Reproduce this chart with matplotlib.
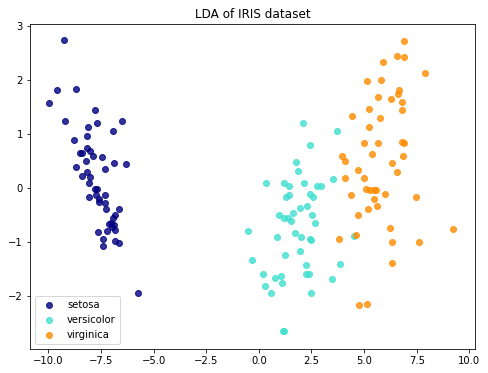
import matplotlib
matplotlib.use("Agg")
from matplotlib import pyplot as plt

target_names = ["setosa", "versicolor", "virginica"]
colors = ["navy", "turquoise", "darkorange"]

# LD1 / LD2 values
setosa_x = [-9.25, -9.58, -8.68, -9.96, -7.77, -9.20, -6.49, -7.68, -8.11, -6.92,
            -8.15, -8.77, -8.15, -8.01, -8.40, -8.50, -7.87, -7.44, -8.20, -6.87,
            -6.30, -8.68, -7.30, -8.15, -8.39, -8.01, -8.06, -7.77, -7.68, -8.06,
            -7.73, -7.30, -7.58, -7.58, -7.30, -7.25, -6.63, -6.82, -6.92, -7.01,
            -7.11, -6.87, -6.97, -6.82, -7.20, -7.63, -7.39, -6.82, -6.63, -7.39,
            -5.73]
setosa_y = [2.75, 1.82, 1.84, 1.58, 1.45, 1.24, 1.25, 1.21, 1.14, 1.05,
            0.97, 0.90, 0.75, 0.68, 0.65, 0.65, 0.59, 0.57, 0.51, 0.46,
            0.44, 0.40, 0.35, 0.29, 0.22, 0.20, 0.09, -0.01, -0.02, -0.17,
            -0.13, -0.12, -0.21, -0.26, -0.28, -0.38, -0.39, -0.50, -0.56, -0.65,
            -0.67, -0.68, -0.72, -0.77, -0.80, -0.82, -0.95, -0.98, -1.02, -1.08,
            -1.95]

versicolor_x = [2.10, 3.70, 2.44, 1.77, 1.87, 0.35, 1.20, 1.44, 2.15, 2.77,
                2.96, 3.53, 2.44, 2.58, 1.44, 1.30, 1.96, 2.29, 1.63, 2.53,
                0.96, 1.20, 1.39, 1.55, 2.67, -0.51, 0.87, 1.72, 2.01, 2.44,
                2.46, 1.25, 1.96, -0.32, 2.25, 2.25, 2.39, 0.20, 1.06, 0.77,
                1.11, 0.30, 0.58, 2.48, 3.48, 3.86, 1.17, 1.22, 4.53]
versicolor_y = [1.20, 1.05, 0.79, 0.48, 0.31, 0.09, 0.09, 0.03, 0.09, 0.03,
                0.03, 0.16, -0.10, -0.17, -0.13, -0.17, -0.36, -0.34, -0.47, -0.49,
                -0.50, -0.55, -0.56, -0.60, -0.65, -0.80, -0.91, -0.84, -0.91, -0.95,
                -0.97, -1.23, -1.17, -1.34, -1.43, -1.60, -1.60, -1.60, -1.63, -1.67,
                -1.76, -1.82, -1.95, -1.95, -1.69, -1.41, -2.65, -2.65, -0.89]

virginica_x = [6.90, 6.57, 6.90, 5.90, 7.90, 5.14, 5.81, 6.66, 6.62, 5.66,
               6.28, 6.81, 6.81, 5.24, 4.43, 5.76, 5.24, 5.00, 5.66, 6.81,
               6.90, 5.38, 3.96, 4.10, 6.85, 6.33, 4.72, 6.57, 4.10, 5.00,
               5.10, 5.28, 5.47, 5.56, 6.00, 7.47, 4.38, 5.47, 5.19, 5.62,
               4.72, 6.23, 9.23, 4.62, 3.81, 6.33, 7.61, 6.33, 4.76, 5.14]
virginica_y = [2.73, 2.45, 2.43, 2.34, 2.14, 1.99, 2.01, 1.81, 1.75, 1.68,
               1.66, 1.60, 1.45, 1.47, 1.33, 1.29, 1.14, 0.83, 0.83, 0.86,
               0.83, 0.64, 0.60, 0.51, 0.59, 0.46, 0.33, 0.29, 0.18, 0.18,
               -0.02, -0.04, -0.04, -0.04, -0.10, -0.17, -0.13, -0.21, -0.38, -0.34,
               -0.50, -0.73, -0.76, -0.86, -0.95, -0.99, -0.99, -1.39, -2.17, -2.15]

groups = [(setosa_x, setosa_y), (versicolor_x, versicolor_y), (virginica_x, virginica_y)]

fig = plt.figure(figsize=(488 / 72, 373 / 72), dpi=72)
ax = fig.add_axes([30 / 488, 1 - 349 / 373, 445 / 488, 325 / 373])

for (xs, ys), color, target_name in zip(groups, colors, target_names):
    ax.scatter(xs, ys, alpha=0.8, color=color, label=target_name)

ax.set_xlim(-10.87, 10.27)
ax.set_ylim(-2.98, 3.04)
ax.legend(loc="lower left", shadow=False, scatterpoints=1)
ax.set_title("LDA of IRIS dataset")

fig.savefig("out.png", dpi=72)
